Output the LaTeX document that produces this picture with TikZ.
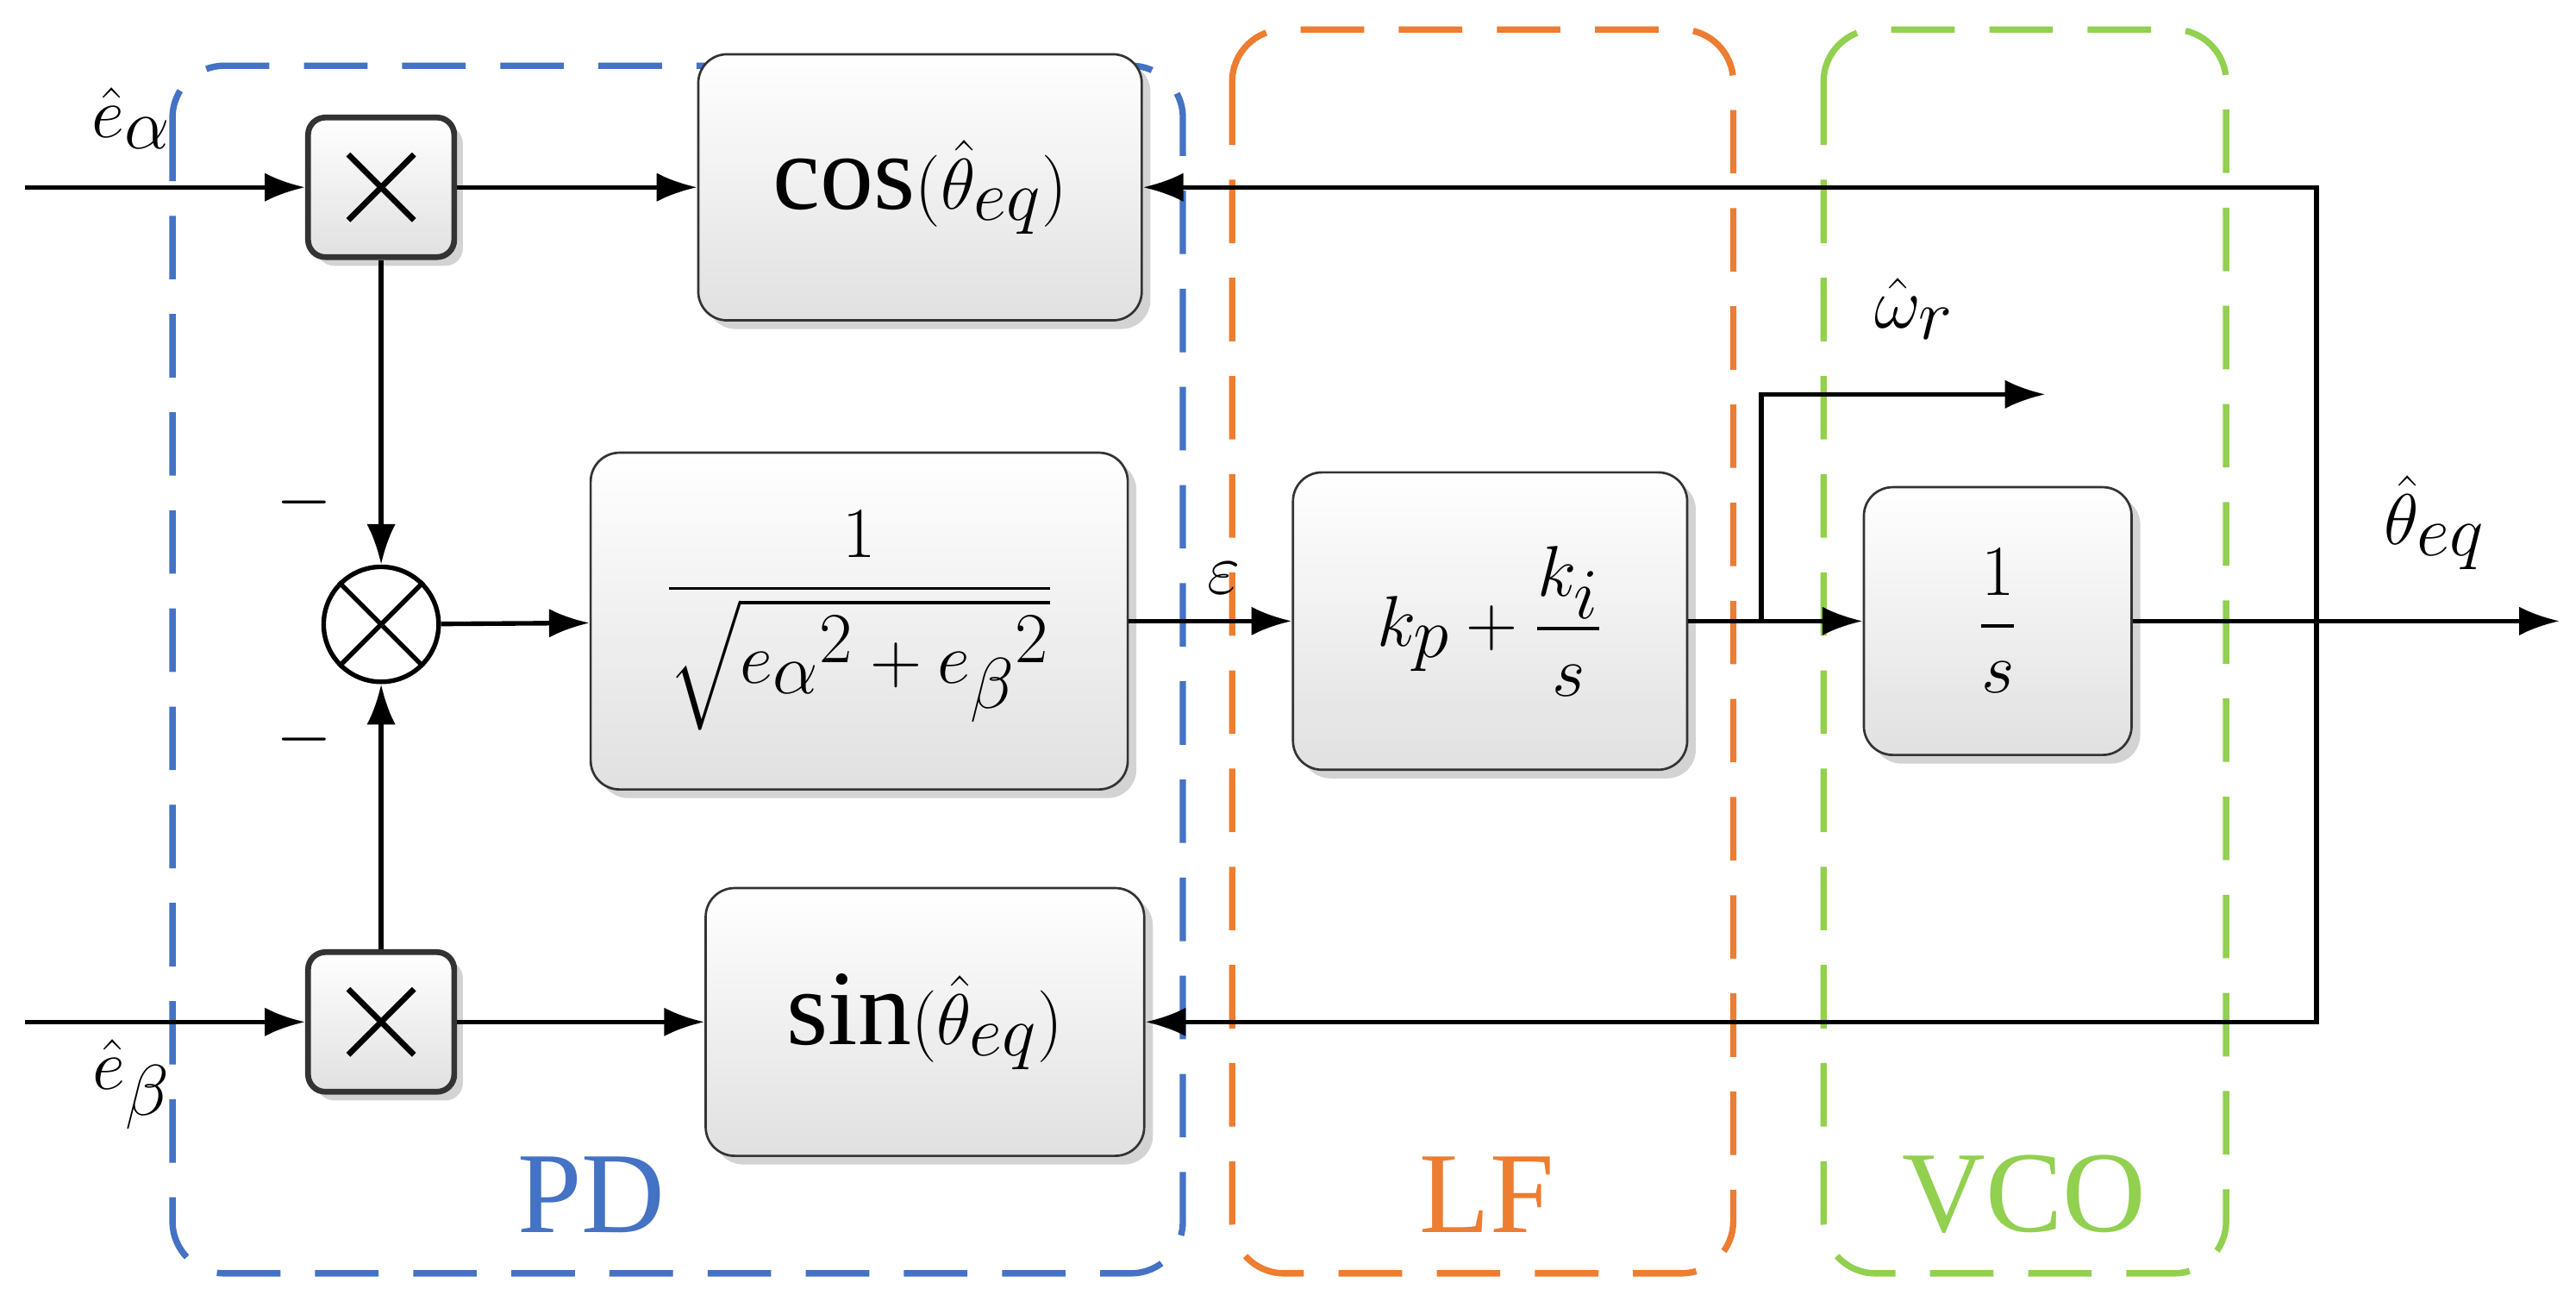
\documentclass[tikz,border=0pt]{standalone}
\usepackage{amsmath}
\usepackage{fontspec}
\setmainfont{Liberation Serif}
\usetikzlibrary{shadows,arrows.meta}
\begin{document}
\begin{tikzpicture}[x=0.02cm,y=-0.02cm,
  blk/.style={draw=black!80,line width=0.8pt,rounded corners=10pt,top color=white,bottom color=black!12,drop shadow={opacity=0.35,shadow xshift=3pt,shadow yshift=-3pt},font=\fontsize{37}{44}\selectfont},
  grp/.style={dashed,line width=2.2pt,rounded corners=18pt,dash pattern=on 22pt off 12pt},
  ln/.style={line width=1.6pt},
  ar/.style={ln,-{Latex[length=14pt,width=10pt]}},
  lbl/.style={font=\fontsize{36}{42}\selectfont}]
\useasboundingbox (0,0) rectangle (1568,788);
% groups
\draw[grp,color={rgb,255:red,68;green,114;blue,196}] (105,40) rectangle (720,775);
\draw[grp,color={rgb,255:red,237;green,125;blue,49}] (750,18) rectangle (1055,775);
\draw[grp,color={rgb,255:red,146;green,208;blue,80}] (1110,18) rectangle (1355,775);
\node[font=\fontsize{40}{46}\selectfont,color={rgb,255:red,68;green,114;blue,196}] (pdl) at (360,727) {PD};
\node[font=\fontsize{40}{46}\selectfont,color={rgb,255:red,237;green,125;blue,49}] (lfl) at (905,727) {LF};
\node[font=\fontsize{40}{46}\selectfont,color={rgb,255:red,146;green,208;blue,80}] (vcol) at (1232,727) {VCO};
% multipliers
\node[blk,rounded corners=6pt,minimum width=1.78cm,minimum height=1.7cm,line width=2pt,inner sep=0pt] (m1) at (232,114) {};
\node[blk,rounded corners=6pt,minimum width=1.78cm,minimum height=1.7cm,line width=2pt,inner sep=0pt] (m2) at (232,622) {};
\foreach \m in {m1,m2}{
 \draw[line width=2pt] ([shift={(-20,-20)}]\m.center) -- ([shift={(20,20)}]\m.center);
 \draw[line width=2pt] ([shift={(-20,20)}]\m.center) -- ([shift={(20,-20)}]\m.center);}
\node[draw,circle,line width=1.6pt,minimum size=1.4cm,inner sep=0pt] (sum) at (232,380) {};
\draw[ln] (sum.north west) -- (sum.south east) (sum.north east) -- (sum.south west);
% blocks
\node[blk,minimum width=5.4cm,minimum height=3.24cm] (cos) at (560,114) {$\cos(\hat\theta_{eq})$};
\node[blk,minimum width=6.54cm,minimum height=4.1cm,inner sep=2pt] (sq) at (523,378) {$\dfrac{1}{\sqrt{{e_\alpha}^2+{e_\beta}^2}}$};
\node[blk,minimum width=5.34cm,minimum height=3.26cm] (sin) at (563,622) {$\sin(\hat\theta_{eq})$};
\node[blk,minimum width=4.8cm,minimum height=3.62cm] (pi) at (907,378) {$k_p+\dfrac{k_i}{s}$};
\node[blk,minimum width=3.26cm,minimum height=3.26cm] (int) at (1216,378) {$\dfrac{1}{s}$};
% coordinates
\coordinate (inA) at (15,114);
\coordinate (inB) at (15,622);
\coordinate (br) at (1072,378);
\coordinate (brt) at (1072,240);
\coordinate (wout) at (1245,240);
\coordinate (fb) at (1410,378);
\coordinate (fbt) at (1410,114);
\coordinate (fbb) at (1410,622);
\coordinate (out) at (1558,378);
% connectors
\draw[ar] (inA) -- (m1);
\draw[ar] (inB) -- (m2);
\draw[ar] (m1) -- (cos);
\draw[ar] (m2) -- (sin);
\draw[ar] (m1) -- (sum);
\draw[ar] (m2) -- (sum);
\draw[ar] (sum) -- (sq);
\draw[ar] (sq) -- (pi);
\draw[ar] (pi) -- (int);
\draw[ar] (br) -- (brt) -- (wout);
\draw[ar] (int) -- (out);
\draw[ar] (fb) -- (fbt) -- (cos.east);
\draw[ar] (fb) -- (fbb) -- (sin.east);
% labels
\node[lbl] (la) at (80,72) {$\hat e_\alpha$};
\node[lbl] (lb) at (80,660) {$\hat e_\beta$};
\node[lbl] (mi1) at (185,306) {$-$};
\node[lbl] (mi2) at (185,450) {$-$};
\node[lbl] (eps) at (745,352) {$\varepsilon$};
\node[lbl] (w) at (1165,188) {$\hat\omega_r$};
\node[lbl] (th) at (1482,318) {$\hat\theta_{eq}$};
\end{tikzpicture}
\end{document}
